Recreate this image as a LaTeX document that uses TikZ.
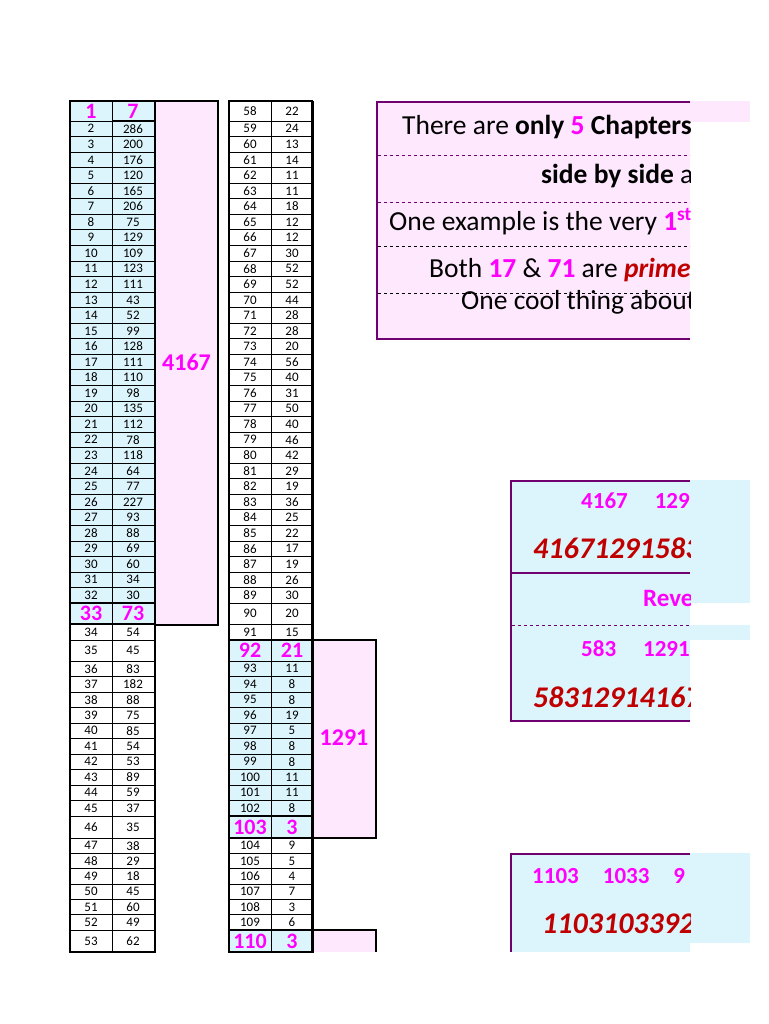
\documentclass[tikz,border=0pt]{standalone}
\usepackage{fontspec}
\setmainfont{Carlito}
\definecolor{mag}{RGB}{255,0,255}
\definecolor{cellblue}{RGB}{220,245,252}
\definecolor{cellpink}{RGB}{253,232,253}
\definecolor{boxpurple}{RGB}{112,0,112}
\definecolor{dred}{RGB}{192,0,0}
\newcommand\trow[7]{%
  \fill[#6] (#1,#2) rectangle ({#1+84},#3);
  \draw[gridl] (#1,#2) rectangle ({#1+42},#3);
  \draw[gridl] ({#1+42},#2) rectangle ({#1+84},#3);
  \node[#7] at ({#1+21},{(#2+#3)/2}) {#4};
  \node[#7] at ({#1+63},{(#2+#3)/2}) {#5};}
\tikzset{gridl/.style={black,line width=0.7pt},
  thick/.style={black,line width=2.2pt},
  sm/.style={font=\fontsize{13}{13}\selectfont,inner sep=0pt},
  big/.style={font=\fontsize{22}{22}\selectfont\bfseries,text=mag,inner sep=0pt},
  txt/.style={font=\fontsize{27.5}{27.5}\selectfont,anchor=base west,inner sep=0pt},
  bignum/.style={font=\fontsize{30}{30}\selectfont\bfseries\itshape,text=dred,anchor=base west,inner sep=0pt}}
\begin{document}
\begin{tikzpicture}[x=1pt,y=-1pt]
\useasboundingbox (0,0) rectangle (768,1024);
% ---------- left table
\fill[cellpink] (155,101) rectangle (218,625);
\trow{70}{101}{121}{1}{7}{cellblue}{big}
\foreach \n/\v [count=\k from 0] in {2/286,3/200,4/176,5/120,6/165,7/206,8/75,9/129,10/109,11/123,12/111,13/43,14/52,15/99,16/128,17/111,18/110,19/98,20/135,21/112,22/78,23/118,24/64,25/77,26/227,27/93,28/88,29/69,30/60,31/34,32/30}{
  \pgfmathsetmacro\ta{121+\k*15.55}\pgfmathsetmacro\tb{\ta+15.55}
  \trow{70}{\ta}{\tb}{\n}{\v}{cellblue}{sm}}
\trow{70}{603}{624}{33}{73}{cellblue}{big}
\trow{70}{624}{640}{34}{54}{white}{sm}
\trow{70}{640}{661}{35}{45}{white}{sm}
\foreach \n/\v [count=\k from 0] in {36/83,37/182,38/88,39/75,40/85,41/54,42/53,43/89,44/59,45/37}{
  \pgfmathsetmacro\ta{661+\k*15.5}\pgfmathsetmacro\tb{\ta+15.5}
  \trow{70}{\ta}{\tb}{\n}{\v}{white}{sm}}
\trow{70}{816}{838}{46}{35}{white}{sm}
\foreach \n/\v [count=\k from 0] in {47/38,48/29,49/18,50/45,51/60,52/49}{
  \pgfmathsetmacro\ta{838+\k*15.33}\pgfmathsetmacro\tb{\ta+15.33}
  \trow{70}{\ta}{\tb}{\n}{\v}{white}{sm}}
\trow{70}{930}{952}{53}{62}{white}{sm}
\draw[thick] (70,101) rectangle (155,952);
\draw[thick] (113,121) -- (155,121);
\draw[thick] (70,603) -- (155,603);
\draw[thick] (70,624) -- (155,624);
\draw[thick] (155,101) rectangle (218,625);
\node[font=\fontsize{24}{24}\selectfont\bfseries,text=mag] (s1) at (186.5,362) {4167};
% ---------- middle table
\fill[cellpink] (312,640) rectangle (376,838);
\fill[cellpink] (312,930) rectangle (376,952);
\trow{229}{101}{121}{58}{22}{white}{sm}
\foreach \n/\v [count=\k from 0] in {59/24,60/13,61/14,62/11,63/11,64/18,65/12,66/12,67/30,68/52,69/52,70/44,71/28,72/28,73/20,74/56,75/40,76/31,77/50,78/40,79/46,80/42,81/29,82/19,83/36,84/25,85/22,86/17,87/19,88/26,89/30}{
  \pgfmathsetmacro\ta{121+\k*15.55}\pgfmathsetmacro\tb{\ta+15.55}
  \trow{229}{\ta}{\tb}{\n}{\v}{white}{sm}}
\trow{229}{603}{624}{90}{20}{white}{sm}
\trow{229}{624}{640}{91}{15}{white}{sm}
\trow{229}{640}{661}{92}{21}{cellblue}{big}
\foreach \n/\v [count=\k from 0] in {93/11,94/8,95/8,96/19,97/5,98/8,99/8,100/11,101/11,102/8}{
  \pgfmathsetmacro\ta{661+\k*15.5}\pgfmathsetmacro\tb{\ta+15.5}
  \trow{229}{\ta}{\tb}{\n}{\v}{cellblue}{sm}}
\trow{229}{816}{838}{103}{3}{cellblue}{big}
\foreach \n/\v [count=\k from 0] in {104/9,105/5,106/4,107/7,108/3,109/6}{
  \pgfmathsetmacro\ta{838+\k*15.33}\pgfmathsetmacro\tb{\ta+15.33}
  \trow{229}{\ta}{\tb}{\n}{\v}{white}{sm}}
\trow{229}{930}{952}{110}{3}{cellblue}{big}
\draw[thick] (229,101) rectangle (312,952);
\draw[thick] (229,640) -- (312,640);
\draw[thick] (229,816) -- (312,816);
\draw[thick] (229,838) -- (312,838);
\draw[thick] (229,930) -- (312,930);
\draw[thick] (312,640) rectangle (376,838);
\draw[thick] (312,952) -- (312,930) -- (376,930) -- (376,952);
\node[font=\fontsize{24}{24}\selectfont\bfseries,text=mag] (s2) at (344,738) {1291};
% ---------- text box
\fill[cellpink] (690,101) rectangle (750,122);
\fill[cellpink] (376,101) rectangle (690,340);
\draw[boxpurple,line width=2.2pt] (690,102) -- (377,102) -- (377,339) -- (690,339);
\draw[boxpurple,dashed,line width=0.5pt] (378,155) -- (690,155);
\draw[boxpurple,dashed,line width=0.5pt] (378,202) -- (690,202);
\draw[black,dashed,line width=0.5pt] (378,246) -- (690,246);
\draw[black,dashed,line width=0.5pt] (378,293) -- (690,293);
\begin{scope}
\clip (376,95) rectangle (690,345);
\node[txt] (t1) at (402,135) {There are \textbf{only \textcolor{mag}{5} Chapters} in the Quran};
\node[txt] (t2) at (541,184) {\textbf{side by side} and};
\node[txt] (t3) at (389,230) {One example is the very \textbf{\textcolor{mag}{1\textsuperscript{st}}} chapter};
\node[txt] (t4) at (429,277) {Both \textbf{\textcolor{mag}{17}} \& \textbf{\textcolor{mag}{71}} are \textbf{\textit{\textcolor{dred}{prime}}} numbers};
\node[txt] (t5) at (461,309) {One cool thing about it};
\end{scope}
% ---------- box 2
\fill[cellblue] (510,480) rectangle (750,603);
\fill[cellblue] (510,603) rectangle (690,722);
\fill[cellblue] (690,625) rectangle (750,640);
\draw[boxpurple,line width=2.2pt] (690,481) -- (511,481) -- (511,721) -- (690,721);
\draw[boxpurple,line width=1.5pt] (511,573) -- (690,573);
\draw[boxpurple,dashed,line width=0.5pt] (512,625) -- (690,625);
\begin{scope}
\clip (505,475) rectangle (690,730);
\node[txt,font=\fontsize{23}{23}\selectfont\bfseries,text=mag] (u1) at (581,508) {4167\hspace{27pt}1291\hspace{27pt}583};
\node[bignum] (u2) at (533,558) {41671291583};
\node[txt,font=\fontsize{25}{25}\selectfont\bfseries,text=mag] (u3) at (643,606) {Reverse};
\node[txt,font=\fontsize{23}{23}\selectfont\bfseries,text=mag] (u4) at (581,656) {583\hspace{27pt}1291\hspace{27pt}4167};
\node[bignum] (u5) at (533,707) {58312914167};
\end{scope}
% ---------- box 3
\fill[cellblue] (690,853) rectangle (750,943);
\fill[cellblue] (510,853) rectangle (690,952);
\draw[boxpurple,line width=2.2pt] (690,854) -- (511,854) -- (511,952);
\begin{scope}
\clip (505,845) rectangle (690,960);
\node[txt,font=\fontsize{23}{23}\selectfont\bfseries,text=mag] (v1) at (532,883) {1103\hspace{24pt}1033\hspace{24pt}9};
\node[bignum] (v2) at (542,933) {1103103392};
\end{scope}
\end{tikzpicture}
\end{document}
